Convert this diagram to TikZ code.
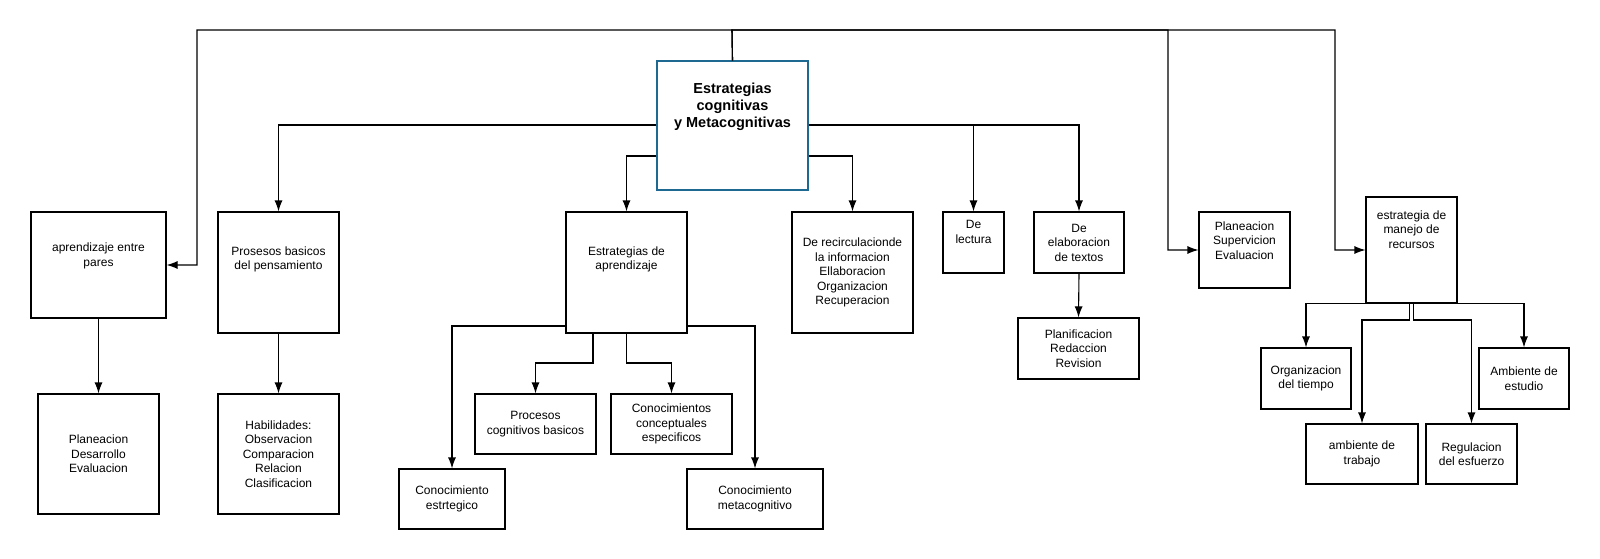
\documentclass[tikz,border=0pt]{standalone}
\usepackage{fontspec}
\setmainfont{Liberation Sans}
\usetikzlibrary{arrows.meta,positioning}
\definecolor{mainBlue}{RGB}{30,105,145}
\begin{document}
\begin{tikzpicture}[x=1pt,y=-1pt]
	%defines
	\tikzset{box/.style={rectangle, draw=black, line width=1.1pt, align=center, inner sep=2pt, font=\fontsize{12}{14.5}\selectfont}}
	\tikzset{mainBox/.style={box, draw=mainBlue, font=\fontsize{14.5}{17}\selectfont\bfseries}}
	\tikzset{arrow/.style={line width=1.1pt,-{Latex[length=11pt,width=8pt]}}}
	\useasboundingbox (0,0) rectangle (1600,559);
	%chart
	\node (main) [mainBox, minimum width=151pt, minimum height=129pt] at (732.5,125.5) {Estrategias\\cognitivas\\y Metacognitivas\\[1.6em]};
	\node (apr) [box, minimum width=135pt, minimum height=106pt] at (98.5,265) {aprendizaje entre\\pares\\[0.5em]};
	\node (pde) [box, minimum width=121pt, minimum height=120pt] at (98.5,454) {Planeacion\\Desarrollo\\Evaluacion};
	\node (pros) [box, minimum width=121pt, minimum height=121pt] at (278.5,272.5) {Prosesos basicos\\del pensamiento\\[1.2em]};
	\node (hab) [box, minimum width=121pt, minimum height=120pt] at (278.5,454) {Habilidades:\\Observacion\\Comparacion\\Relacion\\Clasificacion};
	\node (estr) [box, minimum width=121pt, minimum height=121pt] at (626.5,272.5) {Estrategias de\\aprendizaje\\[1.2em]};
	\node (proc) [box, minimum width=121pt, minimum height=60pt] at (535.5,424) {Procesos\\cognitivos basicos};
	\node (conc) [box, minimum width=121pt, minimum height=60pt] at (671.5,424) {Conocimientos\\conceptuales\\especificos};
	\node (cest) [box, minimum width=106pt, minimum height=60pt] at (452,499) {Conocimiento\\estrtegico};
	\node (cmet) [box, minimum width=136pt, minimum height=60pt] at (755,499) {Conocimiento\\metacognitivo};
	\node (recirc) [box, minimum width=121pt, minimum height=121pt] at (852.5,272.5) {De recirculacionde\\la informacion\\Ellaboracion\\Organizacion\\Recuperacion};
	\node (lect) [box, minimum width=61pt, minimum height=61pt] at (973.5,242.5) {De\\lectura\\[0.6em]};
	\node (elab) [box, minimum width=90pt, minimum height=61pt] at (1079,242.5) {De\\elaboracion\\de textos};
	\node (planif) [box, minimum width=121pt, minimum height=61pt] at (1078.5,348.5) {Planificacion\\Redaccion\\Revision};
	\node (plan) [box, minimum width=91pt, minimum height=76pt] at (1244.5,250) {Planeacion\\Supervicion\\Evaluacion\\[0.4em]};
	\node (manejo) [box, minimum width=91pt, minimum height=106pt] at (1411.5,250) {estrategia de\\manejo de\\recursos\\[2.2em]};
	\node (org) [box, minimum width=90pt, minimum height=61pt] at (1306,378.5) {Organizacion\\del tiempo};
	\node (amb) [box, minimum width=90pt, minimum height=61pt] at (1524,378.5) {Ambiente de\\estudio};
	\node (trab) [box, minimum width=112pt, minimum height=60pt] at (1362,454) {ambiente de\\trabajo};
	\node (reg) [box, minimum width=91pt, minimum height=60pt] at (1471.5,454) {Regulacion\\del esfuerzo};
	%top connectors
	\draw [arrow] (main.north) -- (732,30) -- (197,30) |- (apr.east);
	\draw [arrow] (main.north) -- (732,30) -- (1168,30) |- (plan.west);
	\draw [arrow] (main.north) -- (732,30) -- (1335,30) |- (manejo.west);
	\draw [arrow] (main.west |- 0,125) -| (pros.north);
	\draw [arrow] (main.west |- 0,156) -| (estr.north);
	\draw [arrow] (main.east |- 0,125) -| (elab.north);
	\draw [arrow] (lect.north |- 0,125) -- (lect.north);
	\draw [arrow] (main.east |- 0,156) -| (recirc.north);
	\draw [arrow] (apr.south) -- (pde.north);
	\draw [arrow] (pros.south) -- (hab.north);
	\draw [arrow] (elab.south) -- (planif.north);
	%aprendizaje
	\draw [arrow] (estr.west |- 0,326) -| (cest.north);
	\draw [arrow] (estr.east |- 0,326) -| (cmet.north);
	\draw [arrow] (estr.south -| 593,0) -- (593,363) -| (proc.north);
	\draw [arrow] (estr.south) -- (626.5,363) -| (conc.north);
	%recursos
	\draw [arrow] (manejo.south west) -| (org.north);
	\draw [arrow] (manejo.south east) -| (amb.north);
	\draw [arrow] (manejo.south -| 1409.5,0) -- (1409.5,320) -| (trab.north);
	\draw [arrow] (manejo.south -| 1413.5,0) -- (1413.5,320) -| (reg.north);
\end{tikzpicture}
\end{document}
